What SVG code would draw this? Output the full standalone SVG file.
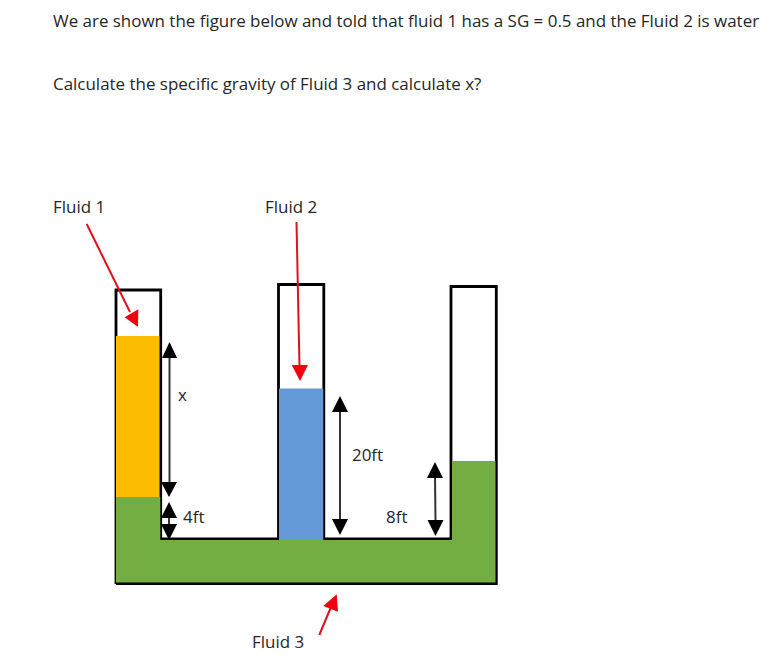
<svg xmlns="http://www.w3.org/2000/svg" width="766" height="655" viewBox="0 0 766 655">
<style>
text{font-family:"Open Sans","Noto Sans","Liberation Sans",sans-serif;fill:#262626;font-size:16.950px}
.tube{fill:none;stroke:#000;stroke-width:2.800}
.dim{stroke:#333;stroke-width:2;fill:none}
.red{stroke:#e0101c;stroke-width:2;fill:none}
.hd{fill:#000}
.rh{fill:#f5000f}
</style>
<rect width="766" height="655" fill="#fff"/>
<g id="question">
<text x="53" y="27">We are shown the figure below and told that fluid 1 has a SG = 0.5 and the Fluid 2 is water</text>
<text x="53" y="90">Calculate the specific gravity of Fluid 3 and calculate x?</text>
</g>
<g id="manometer">
<path class="tube" d="M116 584V290H160.700V539H278.500V284.500H323.800V539H451V286.500H496.300V583.500H116"/>
<path d="M116 336H159.300V497H116Z" fill="#fcbc00"/>
<path d="M279 388.500H323.300V541H279Z" fill="#6399d6"/>
<path d="M116 497H160.300V540H452V461H495.500V582.500H116Z" fill="#74ad42"/>
</g>
<g id="fluid-1"><text x="53" y="213">Fluid 1</text></g>
<g id="fluid-2"><text x="265" y="213">Fluid 2</text></g>
<g id="fluid-3"><text x="252" y="648">Fluid 3</text></g>
<g id="dim-x"><text x="178" y="401">x</text></g>
<g id="dim-4ft"><text x="183" y="523">4ft</text></g>
<g id="dim-20ft"><text x="352" y="461">20ft</text></g>
<g id="dim-8ft"><text x="386" y="523">8ft</text></g>
<g id="connectors">
<path class="dim" d="M169.500 356V483"/>
<path class="hd" d="M169.500 342L177 358H162Z"/>
<path class="hd" d="M169 497L161 482H177Z"/>
<path class="dim" d="M169 516V526"/>
<path class="hd" d="M169 502L177 518H161Z"/>
<path class="hd" d="M169 540L161 524H177Z"/>
<path class="dim" d="M340 410V520"/>
<path class="hd" d="M340 396L348 412H332Z"/>
<path class="hd" d="M340 535L332 519H348Z"/>
<path class="dim" d="M435 476L435.500 521"/>
<path class="hd" d="M435 462L443 478H427Z"/>
<path class="hd" d="M435.500 536L427.500 520H443.500Z"/>
<path class="red" d="M86.700 224L130 312"/>
<path class="rh" d="M138 327L124.700 317.300L138.300 309.300Z"/>
<path class="red" d="M296.500 222L299.500 367"/>
<path class="rh" d="M300 381L291.700 365H308Z"/>
<path class="red" d="M319.300 635L331 607"/>
<path class="rh" d="M336.700 594.300L323.300 606L338 611.700Z"/>
</g>
</svg>
